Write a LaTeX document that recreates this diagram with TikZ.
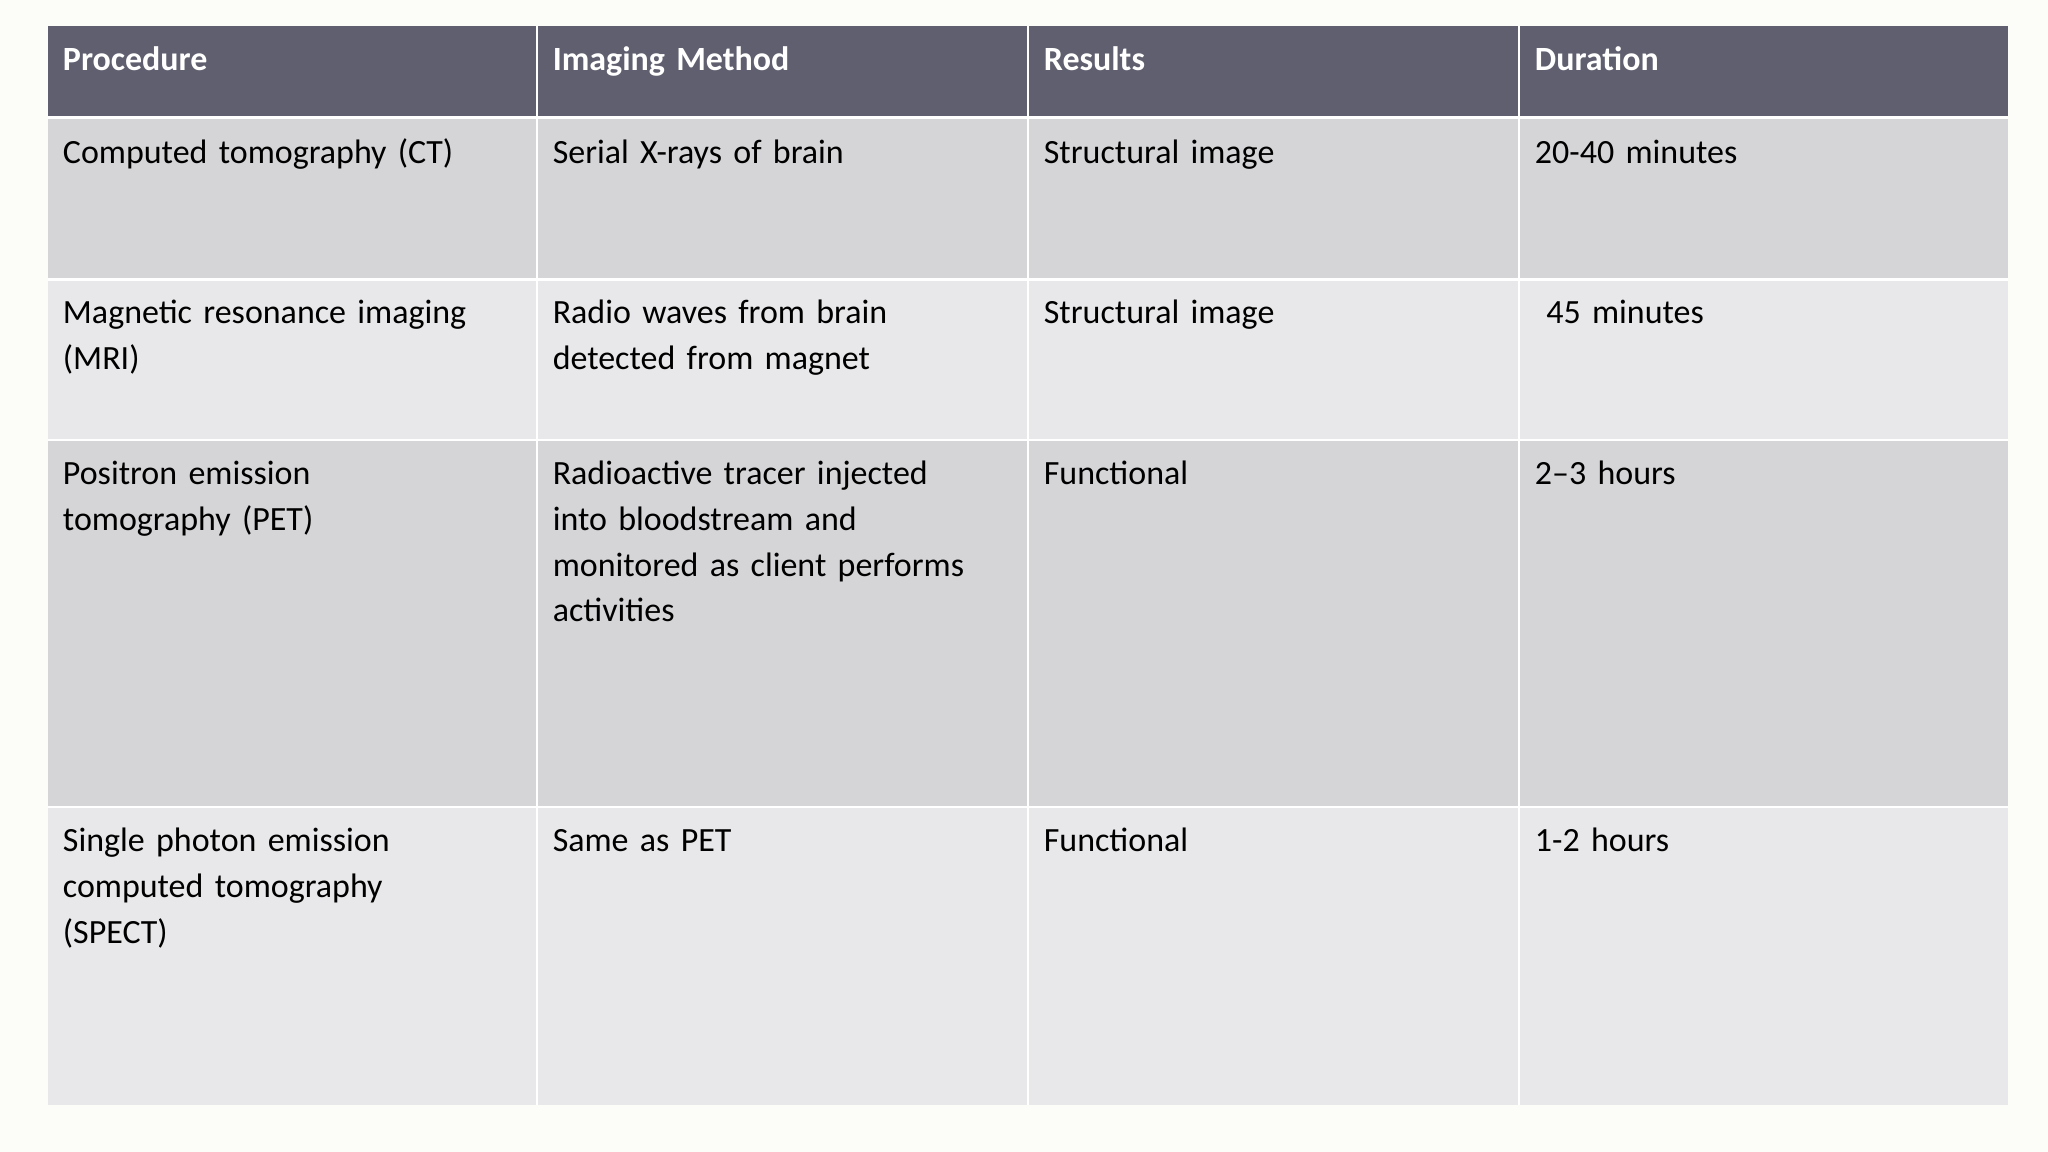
\documentclass[tikz,border=0pt]{standalone}
\usepackage{fontspec}
\setmainfont{Carlito}
\definecolor{bg}{HTML}{FCFCF8}
\definecolor{hd}{HTML}{5F5F70}
\definecolor{ra}{HTML}{D5D5D8}
\definecolor{rb}{HTML}{E8E8EA}
\begin{document}
\begin{tikzpicture}[x=1pt,y=-1pt,
  cell/.style={anchor=base west,inner sep=0pt,text width=350pt,align=left,font=\fontsize{26}{35}\selectfont},
  hcell/.style={cell,text=white,font=\fontsize{26}{35}\selectfont\bfseries}]
\fill[bg] (0,0) rectangle (1568,882);
\useasboundingbox (0,0) rectangle (1568,882);
\def\xa{37}\def\xb{411}\def\xc{787}\def\xd{1163}\def\xe{1537}
\fill[hd] (\xa,20) rectangle (\xe,89);
\fill[ra] (\xa,91) rectangle (\xe,214);
\fill[rb] (\xa,214) rectangle (\xe,337);
\fill[ra] (\xa,337) rectangle (\xe,618);
\fill[rb] (\xa,618) rectangle (\xe,846);
\foreach \x in {\xb,\xc,\xd} \draw[white,line width=2pt] (\x,20) -- (\x,846);
\foreach \y in {90,214,337,618} \draw[white,line width=2pt] (\xa,\y) -- (\xe,\y);
\node[hcell] (h1) at (48,54) {Procedure};
\node[hcell] (h2) at (423,54) {Imaging Method};
\node[hcell] (h3) at (799,54) {Results};
\node[hcell] (h4) at (1175,54) {Duration};
\node[cell] (a1) at (48,125) {Computed tomography (CT)};
\node[cell] (a2) at (423,125) {Serial X-rays of brain};
\node[cell] (a3) at (799,125) {Structural image};
\node[cell] (a4) at (1175,125) {20-40 minutes};
\node[cell] (b1) at (48,248) {Magnetic resonance imaging\\(MRI)};
\node[cell] (b2) at (423,248) {Radio waves from brain\\detected from magnet};
\node[cell] (b3) at (799,248) {Structural image};
\node[cell] (b4) at (1175,248) {\ 45 minutes};
\node[cell] (c1) at (48,371) {Positron emission\\tomography (PET)};
\node[cell] (c2) at (423,371) {Radioactive tracer injected\\into bloodstream and\\monitored as client performs\\activities};
\node[cell] (c3) at (799,371) {Functional};
\node[cell] (c4) at (1175,371) {2--3 hours};
\node[cell] (d1) at (48,652) {Single photon emission\\computed tomography\\(SPECT)};
\node[cell] (d2) at (423,652) {Same as PET};
\node[cell] (d3) at (799,652) {Functional};
\node[cell] (d4) at (1175,652) {1-2 hours};
\end{tikzpicture}
\end{document}
